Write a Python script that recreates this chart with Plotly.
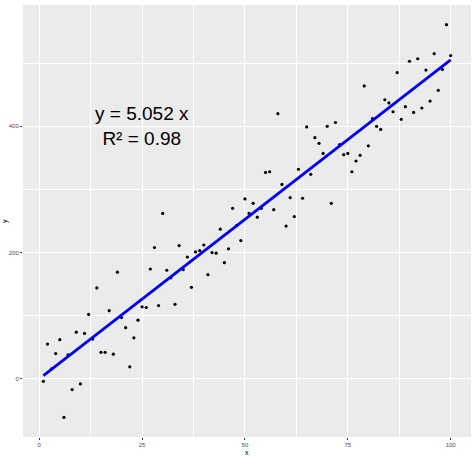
import numpy as np
import plotly.graph_objects as go

x_vals = list(range(1, 101))
y_vals = [-4, 55, 16, 40, 62, -61, 38, -17, 74, -8,
          72, 102, 63, 144, 42, 42, 108, 39, 169, 97,
          81, 19, 65, 93, 114, 113, 174, 208, 116, 262,
          172, 160, 118, 211, 173, 193, 145, 201, 203, 212,
          165, 200, 199, 237, 184, 206, 270, 243, 219, 285,
          262, 278, 256, 270, 327, 328, 268, 420, 308, 242,
          287, 257, 332, 286, 399, 324, 382, 373, 357, 400,
          278, 406, 371, 355, 357, 328, 345, 354, 464, 369,
          412, 400, 395, 442, 437, 423, 485, 411, 431, 503,
          422, 507, 429, 489, 440, 515, 457, 490, 561, 512]

x_ticks = [0, 25, 50, 75, 100]
y_ticks = [0, 200, 400]
eq_text = "y = 5.052 x"
r2_text = "R² = 0.98"
label_x, label_y = 25, 400

xa = np.array(x_vals, dtype=float)
ya = np.array(y_vals, dtype=float)
slope = float((xa * ya).sum() / (xa * xa).sum())
line_x = [xa.min(), xa.max()]
line_y = [slope * v for v in line_x]

def expand(lo, hi, f=0.05):
    s = hi - lo
    return [lo - f * s, hi + f * s]

fig = go.Figure()
fig.add_trace(go.Scatter(x=x_vals, y=y_vals, mode="markers",
                         marker=dict(color="black", size=3.2),
                         showlegend=False))
fig.add_trace(go.Scatter(x=line_x, y=line_y, mode="lines",
                         line=dict(color="#0000FF", width=2.8),
                         showlegend=False))

fig.add_annotation(x=label_x, y=label_y, text=eq_text + "<br>" + r2_text,
                   showarrow=False, xanchor="center", yanchor="middle",
                   font=dict(family="Liberation Sans, Arial", size=19, color="black"),
                   align="center")

title_font = dict(family="Liberation Sans, Arial", size=7, color="black")
fig.add_annotation(x=0.5, y=0, xref="paper", yref="paper", text="x",
                   showarrow=False, xanchor="center", yanchor="top",
                   yshift=-11, font=title_font, borderpad=0)
fig.add_annotation(x=0, y=0.5, xref="paper", yref="paper", text="y",
                   showarrow=False, xanchor="right", yanchor="middle",
                   xshift=-13, textangle=-90, font=title_font, borderpad=0)

axis_common = dict(showgrid=True, gridcolor="white", gridwidth=1.1,
                   zeroline=False, showline=False, ticks="outside",
                   ticklen=2, tickcolor="#333333", tickwidth=1, automargin=False,
                   tickfont=dict(family="Liberation Sans, Arial", size=6, color="#4D4D4D"))

fig.update_layout(
    width=474, height=457,
    margin=dict(l=23, r=3, t=5, b=20),
    paper_bgcolor="white", plot_bgcolor="#EBEBEB",
    xaxis=dict(range=expand(min(x_vals), max(x_vals)), tickvals=x_ticks,
               ticktext=[str(v) for v in x_ticks],
               minor=dict(tickvals=[12.5, 37.5, 62.5, 87.5], showgrid=True,
                          gridcolor="white", gridwidth=0.55, ticks=""),
               **axis_common),
    yaxis=dict(range=expand(min(y_vals), max(y_vals)), tickvals=y_ticks,
               ticktext=[str(v) for v in y_ticks],
               minor=dict(tickvals=[-100, 100, 300, 500], showgrid=True,
                          gridcolor="white", gridwidth=0.55, ticks=""),
               **axis_common),
)

fig.write_html("out.html")
